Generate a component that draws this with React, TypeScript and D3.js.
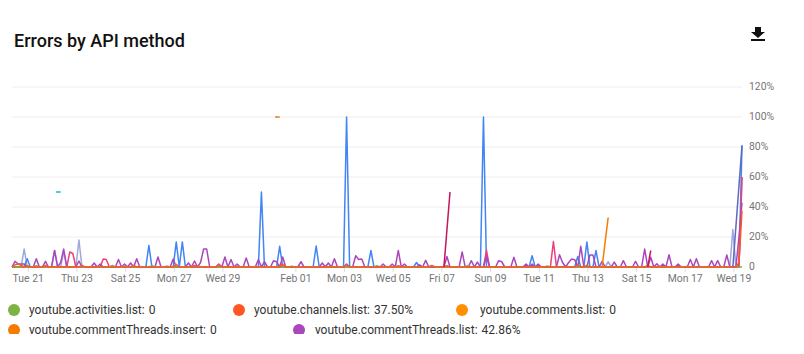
import React from "react";
import * as d3 from "d3";

// Sampled every 3 hours from the start date. Each pair is [sample number, percent]; samples not listed are 0.
const startDate = new Date(2020, 0, 20, 8);
const sampleCount = 241;
const tickDates = [[0,21],[0,23],[0,25],[0,27],[0,29],[1,1],[1,3],[1,5],[1,7],[1,9],[1,11],[1,13],[1,15],[1,17],[1,19]];
const tickLabels = ["Tue 21","Thu 23","Sat 25","Mon 27","Wed 29","Feb 01","Mon 03","Wed 05","Fri 07","Sun 09","Tue 11","Thu 13","Sat 15","Mon 17","Wed 19"];
const yTicks = [0, 20, 40, 60, 80, 100, 120];

const paleBlue = [[4,12],[14,11],[17,10],[22,18],[196,3.5],[235,0],[237,25],[240,60]];
const blue = [[5,5.5],[45,14.4],[54,16.7],[56,16.7],[82,50],[88,13.8],[100,14],[110,100],[118,11],[133,3],[155,100],[171,7.5],[186,7],[189,16.7],[192,11],[237,0],[240,81]];
const indigo = [[237,0],[240,81]];
const pink = [[19,10],[20,9],[30,5.3],[31,5],[156,11],[178,17],[238,0],[240,60]];
const purple = [[1,3.8],[2,2],[3,2],[4,2],[8,5.5],[11,3.8],[14,11],[16,3],[17,12],[22,4],[27,2.7],[29,2],[35,5],[37,2],[39,2.7],[41,5.5],[48,6.7],[51,0.5],[53,5.3],[58,2.7],[60,4],[62,3],[63,12],[64,12],[68,2],[70,6.7],[72,5],[74,2],[77,6],[81,5],[83,3.5],[86,4.2],[87,3.5],[89,6.7],[95,3.5],[102,2.7],[104,2.7],[106,5.5],[110,2],[113,7.5],[114,5],[115,5.3],[122,2],[125,2],[127,11],[129,2],[134,1.5],[136,4.4],[143,7],[148,10],[151,4.2],[153,3.3],[156,7],[160,4.2],[161,3.5],[165,6.5],[169,2],[171,2],[173,2],[180,8.2],[181,3],[183,3],[184,5.3],[185,4.9],[187,13.8],[190,8],[191,8],[194,3.8],[198,3.3],[201,4.2],[205,3.8],[208,12],[210,6.5],[212,2.2],[214,2],[216,8.2],[219,2],[223,5],[225,5.5],[230,4.2],[232,4.2],[235,8],[238,0],[239,20],[240,42.86]];
const green = [[8,0.8],[33,1],[46,0.8],[60,0.7],[92,0.6],[120,0.8],[138,0.7],[150,1],[176,0.7],[222,0.6]];
const red = [[1,1.5],[2,2],[3,1.2],[5,0.8],[11,1],[23,1],[40,1],[54,1.8],[60,1],[68,1.6],[89,2],[110,1.5],[127,0.8],[138,1],[143,0.8],[186,1.5],[189,1],[209,1],[239,3],[240,37.5]];

// Short stretches with gaps around them
const cyan = [[14.5,50],[16,50]];
const brown = [[86.5,100],[88,100]];
const magentaA = [[142,0],[144,50]];
const magentaB = [[209,0],[210,11]];
const amber = [[194,0],[196,33]];

const legendRows = [
  { color: "#7cb342", name: "youtube.activities.list:", value: "0", cx: 14, tx: 29, row: 0 },
  { color: "#ff5722", name: "youtube.channels.list:", value: "37.50%", cx: 239, tx: 254, row: 0 },
  { color: "#ff8f00", name: "youtube.comments.list:", value: "0", cx: 462, tx: 480, row: 0 },
  { color: "#f57c00", name: "youtube.commentThreads.insert:", value: "0", cx: 14, tx: 29, row: 1 },
  { color: "#ab47bc", name: "youtube.commentThreads.list:", value: "42.86%", cx: 299, tx: 315, row: 1 },
];

const font = "Roboto, sans-serif";
const dateOf = (s: number) => d3.timeMinute.offset(startDate, s * 180);
const x = d3.scaleTime().domain([startDate, dateOf(sampleCount - 1)]).range([12, 742]);
const y = d3.scaleLinear().domain([0, 120]).range([267, 87]);
const line = d3.line<number[]>().x((d) => x(dateOf(d[0]))).y((d) => y(d[1]));

function dense(pairs: number[][]) {
  const m = new Map(pairs.map((p) => [p[0], p[1]]));
  return d3.range(sampleCount).map((s) => [s, m.get(s) ?? 0]);
}

const continuous = [
  { pts: paleBlue, color: "#9fa8da" },
  { pts: blue, color: "#4285f4" },
  { pts: pink, color: "#ec407a" },
  { pts: purple, color: "#ab47bc" },
  { pts: green, color: "#7cb342" },
  { pts: red, color: "#ff5722" },
];
const fragments = [
  { pts: cyan, color: "#00bcd4" },
  { pts: brown, color: "#d9822b" },
  { pts: magentaA, color: "#c2185b" },
  { pts: magentaB, color: "#c2185b" },
  { pts: amber, color: "#f57c00" },
  { pts: indigo, color: "#5c6bc0" },
];

export default function App() {
  return (
    <svg width={804} height={354} style={{ position: "absolute", left: 0, top: 0, background: "#fff" }}>
      <defs>
        <clipPath id="legendClip"><rect x={0} y={296} width={804} height={38} /></clipPath>
      </defs>
      <text x={14} y={47} fontFamily={font} fontWeight={500} fontSize={18} fill="#111">Errors by API method</text>
      <g transform="translate(751,27)" fill="#111">
        <path d="M10 0H4V5H0L7 11L14 5H10Z" />
        <rect x={0} y={12} width={14} height={2} />
      </g>
      {yTicks.map((t) => (
        <g key={t}>
          <line x1={12} x2={742} y1={y(t)} y2={y(t)} stroke="#eeeeee" strokeWidth={1} />
          <text x={749} y={y(t) + 2.5} fontFamily={font} fontSize={10.4} fill="#757575">{t === 0 ? "0" : `${t}%`}</text>
        </g>
      ))}
      {tickDates.map(([m, d], i) => {
        const px = x(new Date(2020, m, d));
        return (
          <g key={i}>
            <line x1={px} x2={px} y1={267} y2={272} stroke="#dddddd" />
            <text x={px} y={282} textAnchor="middle" fontFamily={font} fontSize={10.4} fill="#757575">{tickLabels[i]}</text>
          </g>
        );
      })}
      {continuous.map((s, i) => (
        <path key={i} d={line(dense(s.pts)) ?? ""} fill="none" stroke={s.color} strokeWidth={1.5} strokeLinejoin="round" />
      ))}
      {fragments.map((s, i) => (
        <path key={i} d={line(s.pts) ?? ""} fill="none" stroke={s.color} strokeWidth={1.5} />
      ))}
      <g clipPath="url(#legendClip)" fontFamily={font} fontSize={12} fill="#333">
        {legendRows.map((l) => (
          <g key={l.name}>
            <circle cx={l.cx} cy={310 + l.row * 20} r={6} fill={l.color} />
            <text x={l.tx} y={314 + l.row * 20}>{l.name}<tspan dx={4}>{l.value}</tspan></text>
          </g>
        ))}
      </g>
    </svg>
  );
}
